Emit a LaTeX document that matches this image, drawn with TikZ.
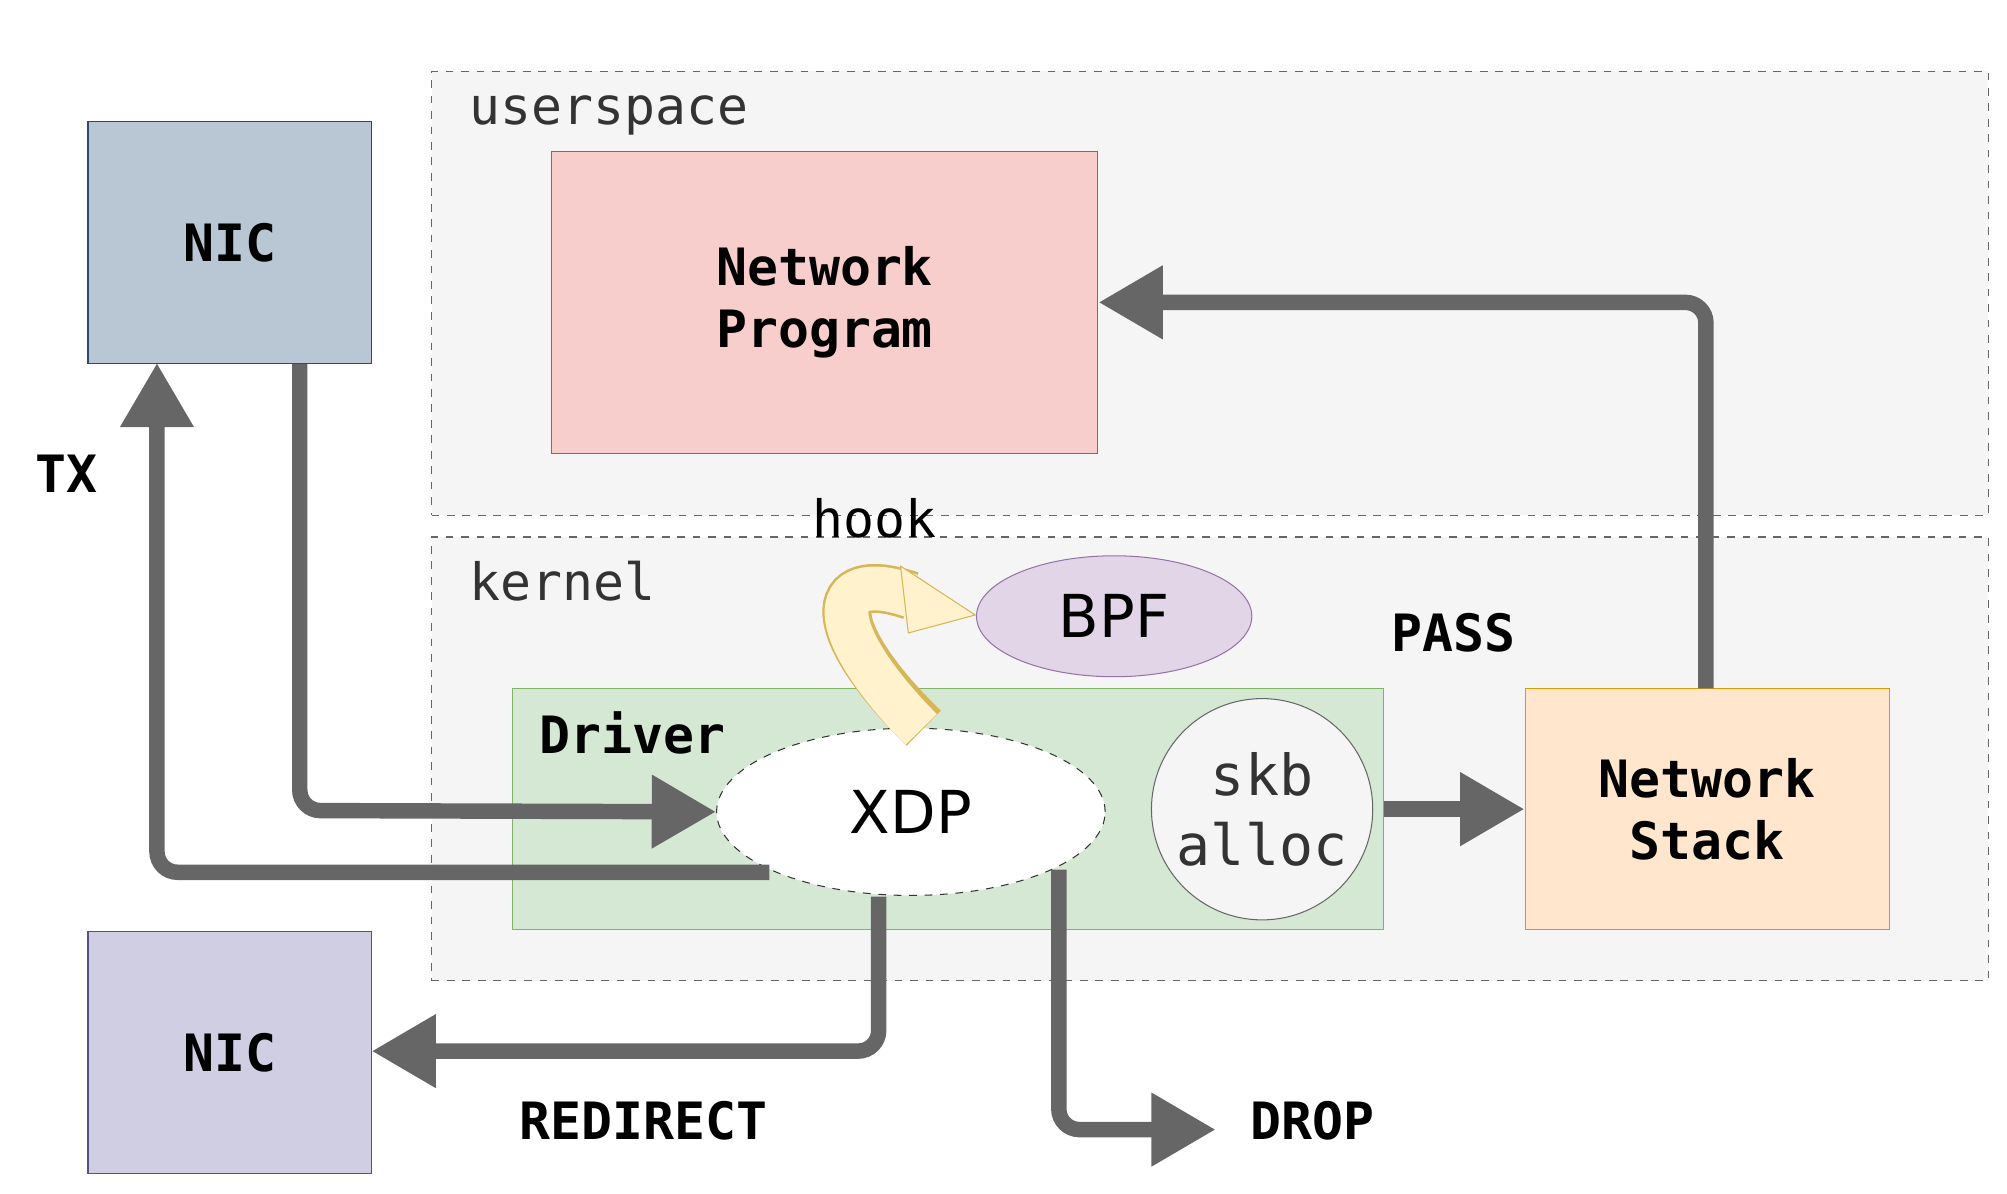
\documentclass[tikz,border=0pt]{standalone}
\usepackage{fontspec}
\setmainfont{DejaVu Sans}
\newfontfamily\mono{DejaVu Sans Mono}
\usetikzlibrary{arrows.meta,shapes.geometric}
\definecolor{ar}{HTML}{666666}
\begin{document}
\begin{tikzpicture}[x=0.5pt,y=-0.5pt,
 lbl/.style={font=\mono\bfseries\fontsize{20}{24}\selectfont,align=center},
 reg/.style={font=\mono\fontsize{20}{24}\selectfont,text=black!80},
 flow/.style={draw=ar,line width=6pt,-{Triangle[length=25pt,width=27pt]},rounded corners=8pt},
 area/.style={draw=black!60,dashed,fill=black!4}]
\useasboundingbox (0,0) rectangle (1560,928);
\node[area,anchor=north west,minimum width=605pt,minimum height=172.5pt] (us) at (335,55) {};
\node[area,anchor=north west,minimum width=605pt,minimum height=172.5pt] (kn) at (335,417) {};
\node[reg,anchor=west] (ul) at (358,90) {userspace};
\node[reg,anchor=west] (kl) at (358,452) {kernel};
\node[lbl,draw={rgb,255:red,45;green,74;blue,107},fill={rgb,255:red,184;green,199;blue,211},anchor=north west,minimum width=110pt,minimum height=94pt] (nic1) at (68,94) {NIC};
\node[lbl,draw={rgb,255:red,184;green,84;blue,80},fill={rgb,255:red,248;green,206;blue,204},anchor=north west,minimum width=212.5pt,minimum height=117.5pt] (np) at (428,117) {Network\\Program};
\node[draw={rgb,255:red,150;green,115;blue,166},fill={rgb,255:red,225;green,213;blue,231},ellipse,minimum width=107pt,minimum height=47pt,inner sep=0pt,font=\fontsize{23}{27}\selectfont] (bpf) at (866,479) {BPF};
\node[draw={rgb,255:red,130;green,179;blue,102},fill={rgb,255:red,213;green,232;blue,212},anchor=north west,minimum width=338.5pt,minimum height=93.5pt] (drv) at (398,535) {};
\node[lbl,anchor=west] (drvl) at (412,570) {Driver};
\node[draw=black!80,dashed,fill=white,ellipse,minimum width=151pt,minimum height=65pt,inner sep=0pt,font=\fontsize{23}{27}\selectfont] (xdp) at (708,631) {XDP};
\node[circle,draw=ar,fill=black!4,minimum size=86pt,inner sep=0pt,font=\mono\fontsize{22}{27}\selectfont,text=black!80,align=center] (skb) at (981,629) {skb\\alloc};
\node[lbl,draw={rgb,255:red,215;green,155;blue,0},fill={rgb,255:red,255;green,230;blue,204},anchor=north west,minimum width=141.5pt,minimum height=93.5pt] (ns) at (1185,535) {Network\\Stack};
\node[lbl,draw={rgb,255:red,86;green,81;blue,126},fill={rgb,255:red,208;green,206;blue,226},anchor=north west,minimum width=110pt,minimum height=94pt] (nic2) at (68,724) {NIC};
% arrows
\coordinate (a1) at (233,630);
\draw[flow] (nic1.south -| a1) -- (a1) -- (xdp.west);
\coordinate (t0) at (598,678);
\draw[flow] (t0) -- (122,678) -- (122,282);
\coordinate (r0) at (683,697);
\draw[flow] (r0) -- (683,817) -- (nic2.east |- 0,817);
\coordinate (d0) at (823,676);
\coordinate (d1) at (945,878);
\draw[flow] (d0) -- (823,878) -- (d1);
\draw[flow] (drv.east) -- (ns.west);
\draw[flow] (ns.north -| 1326,0) -- (1326,235) -- (np.east |- 0,235);
% hook
\draw[line width=19pt,draw={rgb,255:red,214;green,182;blue,86}] (718,566) .. controls (640,490) and (640,440) .. (708,463);
\draw[line width=17pt,draw={rgb,255:red,255;green,242;blue,204}] (716,567) .. controls (640,490) and (640,440) .. (708,463);
\fill[fill={rgb,255:red,255;green,242;blue,204},draw={rgb,255:red,214;green,182;blue,86}] (700,440) -- (758,478) -- (706,492) -- cycle;
\node[reg,text=black] (hk) at (680,403) {hook};
\node[lbl] (tx) at (52,368) {TX};
\node[lbl] (rd) at (500,871) {REDIRECT};
\node[lbl] (dp) at (1020,871) {DROP};
\node[lbl] (ps) at (1130,492) {PASS};
\end{tikzpicture}
\end{document}
